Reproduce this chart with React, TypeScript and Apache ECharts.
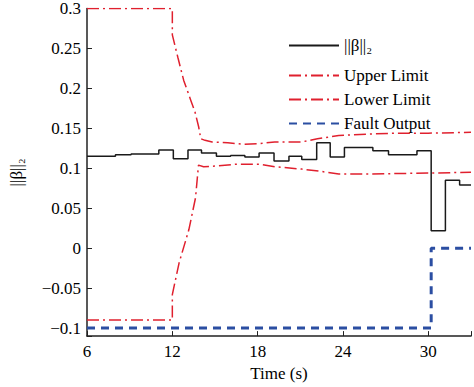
import React, { useEffect, useRef } from 'react';
import * as echarts from 'echarts';

const FONT = 'Liberation Serif';

// ||beta||_2 (step, value holds from t until next t)
const normTime = [6, 8.0, 9.1, 10.1, 11.05, 12.07, 13.1, 14.05, 15.1, 16.1, 17.1, 18.1, 19.15, 20.2, 21.1, 22.15, 23.1, 24.1, 26.1, 27.2, 28.2, 29.2, 30.2, 31.2, 32.2, 33];
const normValues = [0.115, 0.117, 0.118, 0.118, 0.123, 0.112, 0.123, 0.119, 0.115, 0.116, 0.114, 0.119, 0.109, 0.115, 0.111, 0.132, 0.114, 0.126, 0.122, 0.117, 0.117, 0.122, 0.022, 0.085, 0.079, 0.079];

const upperTime = [6, 12.0, 12.0, 12.4, 12.8, 13.3, 13.6, 13.85, 14.0, 14.3, 14.8, 15.9, 17.0, 18.2, 19.2, 21.1, 22.2, 23.7, 26, 28, 30, 33];
const upperValues = [0.3, 0.3, 0.267, 0.238, 0.21, 0.185, 0.17, 0.152, 0.137, 0.135, 0.133, 0.132, 0.13, 0.131, 0.133, 0.133, 0.137, 0.141, 0.143, 0.144, 0.144, 0.145];

const lowerTime = [6, 12.0, 12.0, 12.48, 13.16, 13.63, 13.84, 14.2, 15.2, 16.4, 18.2, 19.2, 21.1, 22.5, 23.7, 26, 30, 33];
const lowerValues = [-0.09, -0.09, -0.058, -0.018, 0.023, 0.063, 0.104, 0.102, 0.103, 0.105, 0.105, 0.102, 0.099, 0.096, 0.093, 0.093, 0.094, 0.095];

const faultTime = [6, 30.2, 33];
const faultValues = [-0.1, 0, 0];

const xTicks = [6, 12, 18, 24, 30];
const yTicks = [0.3, 0.25, 0.2, 0.15, 0.1, 0.05, 0, -0.05, -0.1];

const NORM_NAME = '||β||₂';
const seriesNames = [NORM_NAME, 'Upper Limit', 'Lower Limit', 'Fault Output'];

const zip = (xs: number[], ys: number[]) => xs.map((x, i) => [x, ys[i]]);

const TXT = { fontFamily: FONT, fontStyle: 'normal', fontWeight: 'normal', fontSize: 17, color: '#000' };

export default function App() {
  const ref = useRef<HTMLDivElement>(null);
  useEffect(() => {
    if (!ref.current) return;
    const chart = echarts.init(ref.current, undefined, { renderer: 'svg' });
    const red = '#e0202e';
    const legendBase = {
      orient: 'vertical',
      left: 283,
      itemWidth: 50,
      itemHeight: 14,
      selectedMode: false,
      itemStyle: { opacity: 0 },
      textStyle: { ...TXT },
    };
    chart.setOption({
      animation: false,
      grid: { left: 78, right: 0, top: 6, bottom: 44, containLabel: false },
      legend: [
        { ...legendBase, data: [seriesNames[0]], top: 32 },
        { ...legendBase, data: [seriesNames[1]], top: 62 },
        { ...legendBase, data: [seriesNames[2]], top: 86 },
        { ...legendBase, data: [seriesNames[3]], top: 110 },
      ],
      xAxis: {
        type: 'value',
        min: 6,
        max: 33,
        interval: 6,
        name: 'Time (s)',
        nameLocation: 'middle',
        nameGap: 27,
        nameTextStyle: { ...TXT },
        axisLine: { show: true, onZero: false, lineStyle: { color: '#222', width: 1.5 } },
        axisTick: { show: true, inside: true, length: 5, lineStyle: { color: '#222', width: 1 } },
        axisLabel: {
          ...TXT,
          margin: 7,
          formatter: (v: number) => (xTicks.includes(v) ? String(v) : ''),
        },
        splitLine: { show: false },
      },
      yAxis: {
        type: 'value',
        min: -0.11,
        max: 0.3,
        minInterval: 0.05,
        maxInterval: 0.05,
        name: NORM_NAME,
        nameLocation: 'middle',
        nameRotate: 90,
        nameGap: 62,
        nameTextStyle: { ...TXT },
        axisLine: { show: true, onZero: false, lineStyle: { color: '#222', width: 1.5 } },
        axisTick: { show: true, inside: true, length: 5, lineStyle: { color: '#222', width: 1 } },
        axisLabel: {
          ...TXT,
          margin: 6,
          formatter: (v: number) => {
            const r = Math.round(v * 100) / 100;
            if (!yTicks.some((t) => Math.abs(t - r) < 1e-9)) return '';
            return String(r).replace('-', '−');
          },
        },
        splitLine: { show: false },
      },
      series: [
        {
          name: seriesNames[3],
          type: 'line',
          step: 'end',
          symbol: 'none',
          data: zip(faultTime, faultValues),
          lineStyle: { color: '#2b4ea2', width: 3, type: [8, 6] },
          itemStyle: { color: '#2b4ea2' },
          z: 2,
        },
        {
          name: seriesNames[1],
          type: 'line',
          symbol: 'none',
          data: zip(upperTime, upperValues),
          lineStyle: { color: red, width: 1.5, type: [12, 4, 2, 4] },
          itemStyle: { color: red },
          z: 3,
        },
        {
          name: seriesNames[2],
          type: 'line',
          symbol: 'none',
          data: zip(lowerTime, lowerValues),
          lineStyle: { color: red, width: 1.5, type: [12, 4, 2, 4] },
          itemStyle: { color: red },
          z: 3,
        },
        {
          name: seriesNames[0],
          type: 'line',
          step: 'end',
          symbol: 'none',
          data: zip(normTime, normValues),
          lineStyle: { color: '#1a1a1a', width: 1.5 },
          itemStyle: { color: '#1a1a1a' },
          z: 4,
        },
      ],
    });
    return () => chart.dispose();
  }, []);
  return (
    <div
      ref={ref}
      style={{ position: 'absolute', left: 0, top: 0, width: 474, height: 387 }}
    />
  );
}
